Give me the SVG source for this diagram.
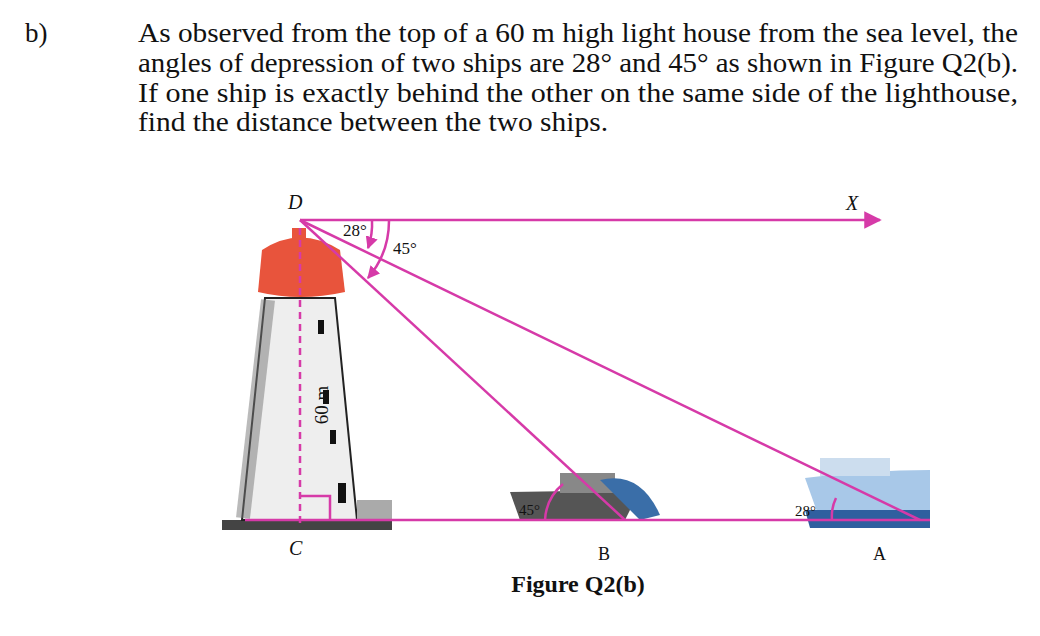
<svg xmlns="http://www.w3.org/2000/svg" width="1040" height="636" viewBox="0 0 1040 636">
<defs>
<style>
.t{font-family:"Liberation Serif",serif;fill:#111}
.m{stroke:#d63aa8;stroke-width:2.5;fill:none}
</style>
<marker id="ar" viewBox="0 0 10 10" refX="9" refY="5" markerWidth="7" markerHeight="7" orient="auto"><path d="M0,0L10,5L0,10z" fill="#d63aa8"/></marker>
<marker id="as" viewBox="0 0 10 10" refX="9" refY="5" markerWidth="5" markerHeight="5" orient="auto"><path d="M0,0L10,5L0,10z" fill="#d63aa8"/></marker>
</defs>
<rect width="1040" height="636" fill="#fff"/>
<text class="t" x="25" y="42" font-size="27">b)</text>
<text class="t" font-size="27" x="138" y="42" textLength="880" lengthAdjust="spacingAndGlyphs">As observed from the top of a 60 m high light house from the sea level, the</text>
<text class="t" font-size="27" x="138" y="72" textLength="880" lengthAdjust="spacingAndGlyphs">angles of depression of two ships are 28° and 45° as shown in Figure Q2(b).</text>
<text class="t" font-size="27" x="138" y="102" textLength="880" lengthAdjust="spacingAndGlyphs">If one ship is exactly behind the other on the same side of the lighthouse,</text>
<text class="t" font-size="27" x="138" y="131" textLength="470" lengthAdjust="spacingAndGlyphs">find the distance between the two ships.</text>
<g id="lighthouse">
<rect x="222" y="520" width="170" height="10" fill="#444"/>
<path d="M265,298 L335,298 L357,520 L242,520 Z" fill="#eee" stroke="#222" stroke-width="2"/>
<path d="M268,300 L243,518" stroke="#777" stroke-width="14" opacity="0.5"/>
<path d="M262,250 Q300,225 340,250 L345,292 Q300,302 258,292 Z" fill="#e8543c"/>
<rect x="292" y="228" width="14" height="12" fill="#e8543c"/>
<rect x="318" y="320" width="6" height="14" fill="#111"/>
<rect x="323" y="390" width="6" height="14" fill="#111"/>
<rect x="330" y="430" width="6" height="14" fill="#111"/>
<rect x="338" y="483" width="8" height="20" fill="#111"/>
<rect x="357" y="500" width="35" height="20" fill="#aaa"/>
</g>
<g id="shipB">
<path d="M510,492 L640,490 L625,520 L520,520 Z" fill="#555"/>
<rect x="560" y="473" width="55" height="20" fill="#888"/>
<path d="M600,480 Q640,470 660,515 L640,520 Z" fill="#3a6ea8"/>
</g>
<g id="shipA">
<path d="M805,478 Q870,470 930,470 L930,520 L820,520 Z" fill="#a8c8e8"/>
<rect x="820" y="458" width="70" height="18" fill="#cde"/>
<path d="M805,510 L930,510 L930,528 L810,528 Z" fill="#2f5f9f"/>
</g>
<g id="connectors">
<line class="m" x1="300" y1="220" x2="880" y2="220" marker-end="url(#ar)"/>
<line class="m" x1="300" y1="220" x2="625" y2="520"/>
<line class="m" x1="300" y1="220" x2="920" y2="520"/>
<line class="m" x1="245" y1="520" x2="930" y2="520"/>
<line class="m" x1="300" y1="228" x2="300" y2="525" stroke-dasharray="7,5"/>
<path class="m" stroke-width="2" d="M300,496 H330 V520"/>
<path class="m" stroke-width="2" d="M372,220 A72,72 0 0 1 368,248" marker-end="url(#as)"/>
<path class="m" stroke-width="2" d="M389,220 A89,89 0 0 1 368,278" marker-end="url(#as)"/>
<path class="m" stroke-width="2" d="M545,520 A50,50 0 0 1 563,484"/>
<path class="m" stroke-width="2" d="M832,520 A42,42 0 0 1 836,498"/>
</g>
<g id="labels" class="t">
<text x="288" y="209" font-size="20" font-style="italic">D</text>
<text x="846" y="210" font-size="20" font-style="italic">X</text>
<text x="289" y="555" font-size="20" font-style="italic">C</text>
<text x="598" y="560" font-size="18">B</text>
<text x="873" y="560" font-size="18">A</text>
<text x="343" y="236" font-size="17">28°</text>
<text x="393" y="254" font-size="17">45°</text>
<text x="519" y="515" font-size="15">45°</text>
<text x="795" y="516" font-size="15">28°</text>
<text x="322" y="411" font-size="19" transform="rotate(-90 322 405)" text-anchor="middle">60 m</text>
<text x="578" y="592" font-size="24" font-weight="bold" text-anchor="middle">Figure Q2(b)</text>
</g>
</svg>
